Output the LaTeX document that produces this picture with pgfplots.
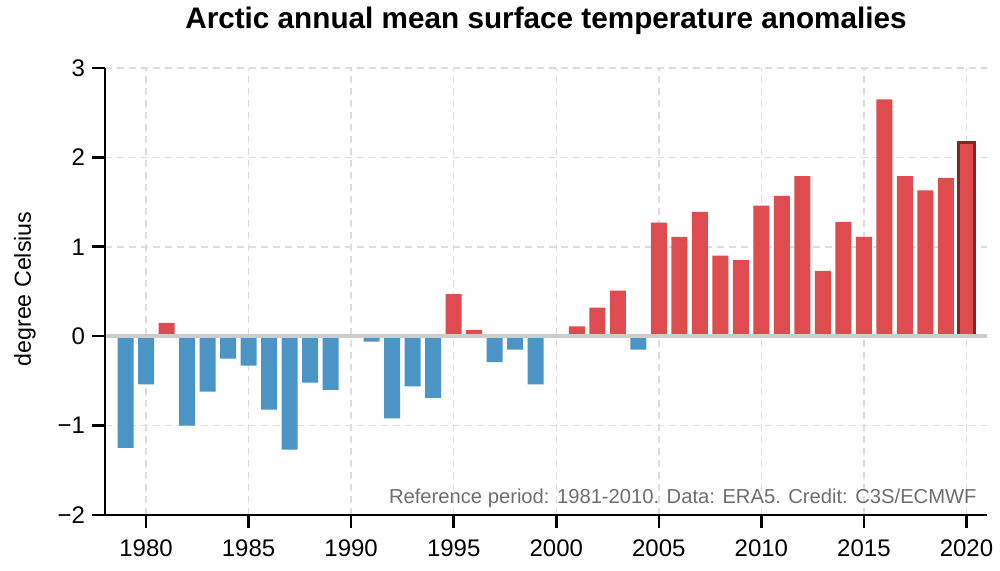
\documentclass[border=0pt]{standalone}
\usepackage{pgfplots}
\pgfplotsset{compat=1.18}
\usepackage{fontspec}
\setmainfont{Liberation Sans}
\definecolor{barblue}{RGB}{74,148,198}
\definecolor{barred}{RGB}{222,76,80}
\definecolor{darkred}{RGB}{140,35,35}
\definecolor{gridgray}{RGB}{221,221,221}
\definecolor{zerogray}{RGB}{204,204,204}
\definecolor{notegray}{RGB}{110,110,110}
\begin{document}
\begin{tikzpicture}
\path[use as bounding box] (-52.5pt,-28pt) rectangle (447.5pt,257.5pt);
\begin{axis}[
  at={(0,0)}, anchor=south west,
  scale only axis, width=441pt, height=223.5pt,
  xmin=1978, xmax=2021, ymin=-2, ymax=3,
  axis lines=left, axis line style={black, line width=1.3pt, -},
  xtick={1980,1985,...,2020}, ytick={-2,-1,0,1,2,3},
  yticklabels={−2,−1,0,1,2,3},
  xticklabels={1980,1985,1990,1995,2000,2005,2010,2015,2020},
  tick align=outside, major tick length=6.5pt,
  tick style={black, line width=1.3pt},
  grid=major, major grid style={gridgray, line width=0.75pt, dash pattern=on 3.5pt off 2.5pt},
  ticklabel style={font=\fontsize{12pt}{13pt}\selectfont},
  xticklabel style={yshift=-2.2pt},
  clip=false,
  bar width=0.78,
]
\addplot[ybar, bar shift=0pt, fill=barblue, draw=none] coordinates {
(1979,-1.25) (1980,-0.54) (1982,-1.00) (1983,-0.62) (1984,-0.25) (1985,-0.33)
(1986,-0.82) (1987,-1.27) (1988,-0.52) (1989,-0.60) (1990,-0.01) (1991,-0.06)
(1992,-0.92) (1993,-0.56) (1994,-0.69) (1997,-0.29) (1998,-0.15) (1999,-0.54)
(2004,-0.15)};
\addplot[ybar, bar shift=0pt, fill=barred, draw=none] coordinates {
(1981,0.15) (1995,0.47) (1996,0.07) (2000,0.01) (2001,0.11) (2002,0.32) (2003,0.51)
(2005,1.27) (2006,1.11) (2007,1.39) (2008,0.90) (2009,0.85) (2010,1.46)
(2011,1.57) (2012,1.79) (2013,0.73) (2014,1.28) (2015,1.11) (2016,2.65)
(2017,1.79) (2018,1.63) (2019,1.77)};
\addplot[ybar, bar shift=0pt, fill=barred, draw=darkred, line width=1.6pt] coordinates {(2020,2.17)};
\draw[zerogray, line width=2pt] (axis cs:1978.05,0) -- (axis cs:2021,0);
\end{axis}
\node[font=\bfseries\fontsize{14.85pt}{16pt}\selectfont] at (220.5pt,247pt) {Arctic annual mean surface temperature anomalies};
\node[rotate=90, font=\fontsize{11.6pt}{13pt}\selectfont] at (-40pt,113pt) {degree Celsius};
\node[anchor=east, inner sep=0pt, text=notegray, font=\fontsize{10.1pt}{12pt}\selectfont] at (436pt,8.5pt) {Reference period: 1981-2010. Data: ERA5. Credit: C3S/ECMWF};
\end{tikzpicture}
\end{document}
